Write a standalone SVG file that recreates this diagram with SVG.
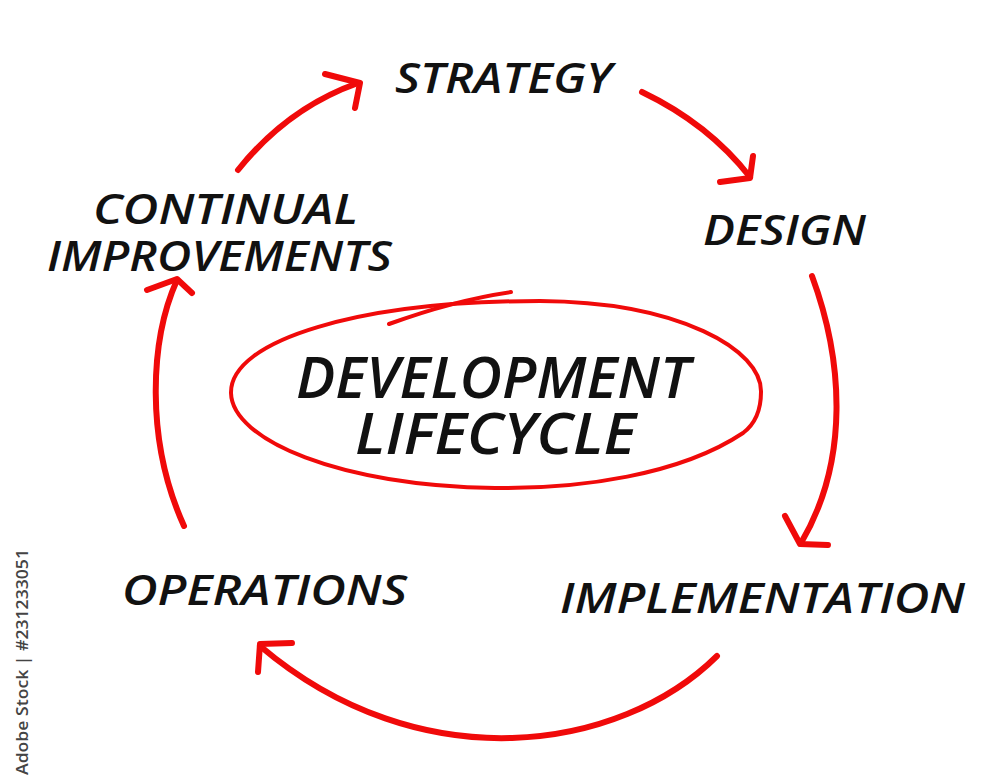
<svg xmlns="http://www.w3.org/2000/svg" width="1000" height="780" viewBox="0 0 1000 780">
<style>
.lbl{font-family:"Open Sans","DejaVu Sans",sans-serif;font-style:italic;font-weight:600;fill:#111;}
.sm{font-size:41px;}
.big{font-size:57px;}
.red{fill:none;stroke:#f00a0a;stroke-width:6;stroke-linecap:round;stroke-linejoin:round;}
.thin{fill:none;stroke:#f00a0a;stroke-width:4;stroke-linecap:round;stroke-linejoin:round;}
.wm{font-family:"Open Sans","DejaVu Sans",sans-serif;font-size:16px;font-weight:600;fill:#444;}
</style>
<rect width="1000" height="780" fill="#fff"/>

<g id="connectors">
  <g id="c1">
    <path class="red" d="M238 170 C270 130 310 100 358 83"/>
    <path class="red" d="M325 74 L360 83 L355 108"/>
  </g>
  <g id="c2">
    <path class="red" d="M642 92 C690 115 725 145 750 177"/>
    <path class="red" d="M753 156 L750 178 L720 182"/>
  </g>
  <g id="c3">
    <path class="red" d="M812 276 C843 360 850 460 801 543"/>
    <path class="red" d="M785 516 L800 544 L828 545"/>
  </g>
  <g id="c4">
    <path class="red" d="M717 656 C620 752 420 782 260 646"/>
    <path class="red" d="M292 643 L260 644 L258 672"/>
  </g>
  <g id="c5">
    <path class="red" d="M184 526 C145 440 150 340 177 280"/>
    <path class="red" d="M147 290 L177 279 L192 293"/>
  </g>
</g>

<g id="center">
  <path class="thin" d="M743 433 C680 475 580 489 495 488 C340 486 232 440 231 393 C230 340 360 301 540 301 C680 302 762 350 761 392 C761 410 755 424 743 433"/>
  <path class="thin" d="M389 324 C430 309 470 298 511 292"/>
  <text class="lbl big" x="296" y="398" textLength="394" lengthAdjust="spacingAndGlyphs">DEVELOPMENT</text>
  <text class="lbl big" x="355" y="454" textLength="281" lengthAdjust="spacingAndGlyphs">LIFECYCLE</text>
</g>

<g id="strategy">
  <text class="lbl sm" x="395" y="93" textLength="217" lengthAdjust="spacingAndGlyphs">STRATEGY</text>
</g>
<g id="design">
  <text class="lbl sm" x="703" y="245" textLength="163" lengthAdjust="spacingAndGlyphs">DESIGN</text>
</g>
<g id="implementation">
  <text class="lbl sm" x="560" y="613" textLength="405" lengthAdjust="spacingAndGlyphs">IMPLEMENTATION</text>
</g>
<g id="operations">
  <text class="lbl sm" x="122" y="605" textLength="285" lengthAdjust="spacingAndGlyphs">OPERATIONS</text>
</g>
<g id="continual">
  <text class="lbl sm" x="93" y="224" textLength="265" lengthAdjust="spacingAndGlyphs">CONTINUAL</text>
  <text class="lbl sm" x="47" y="271" textLength="345" lengthAdjust="spacingAndGlyphs">IMPROVEMENTS</text>
</g>

<text class="wm" transform="translate(28 775) rotate(-90)" textLength="226" lengthAdjust="spacingAndGlyphs">Adobe Stock | #231233051</text>
</svg>
